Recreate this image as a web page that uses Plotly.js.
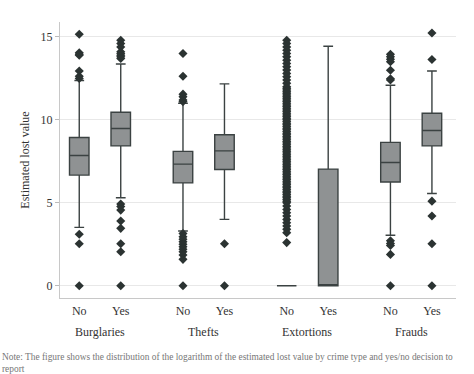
<!DOCTYPE html>
<html><head><meta charset="utf-8">
<script src="https://cdn.plot.ly/plotly-3.0.1.min.js"></script>
<style>html,body{margin:0;padding:0;background:#fff;}</style>
</head><body>
<div id="chart" style="width:474px;height:374px;"></div>
<script>
var groups = ["Burglaries", "Thefts", "Extortions", "Frauds"];
var decisions = ["No", "Yes"];
// box stats per group/decision: [No, Yes]
var q1 = [[6.67, 8.43], [6.2, 7.01], [0, 0], [6.25, 8.43]];
var med = [[7.85, 9.48], [7.33, 8.13], [0, 0], [7.43, 9.36]];
var q3 = [[8.94, 10.46], [8.1, 9.1], [0, 7.03], [8.64, 10.4]];
var lowf = [[3.52, 5.30], [3.3, 4.0], [0, 0], [3.04, 5.56]];
var upf = [[12.37, 13.37], [11.0, 12.17], [0, 14.44], [12.09, 12.95]];
var outliers = [
  [[15.16, 14.05, 13.95, 13.9, 12.95, 12.63, 12.5, 3.1, 2.53, 0],
   [14.8, 14.6, 14.4, 14.1, 14.0, 13.9, 13.8, 13.7, 4.92, 4.78, 4.56, 3.9, 3.46, 2.53, 2.05, 0]],
  [[14.0, 12.63, 11.55, 11.4, 11.2, 11.1, 3.15, 2.95, 2.8, 2.65, 2.5, 2.35, 2.2, 2.05, 1.85, 1.59, 0],
   [2.53, 0]],
  [[14.8, 14.6, 14.4, 14.2, 14.0, 13.8, 13.6, 13.4, 13.2, 13.0, 12.8, 12.6, 12.4, 12.2, 12.0,
    11.9, 11.8, 11.7, 11.6, 11.5, 11.4, 11.3, 11.2, 11.1, 11.0, 10.9, 10.8, 10.7, 10.6, 10.5,
    10.4, 10.3, 10.2, 10.1, 10.0, 9.9, 9.8, 9.7, 9.6, 9.5, 9.4, 9.3, 9.2, 9.1, 9.0,
    8.9, 8.8, 8.7, 8.6, 8.5, 8.4, 8.3, 8.2, 8.1, 8.0, 7.9, 7.8, 7.7, 7.6, 7.5,
    7.4, 7.3, 7.2, 7.1, 7.0, 6.9, 6.8, 6.7, 6.6, 6.5, 6.4, 6.3, 6.2, 6.1, 6.0,
    5.9, 5.8, 5.7, 5.6, 5.5, 5.4, 5.3, 5.2, 5.1, 5.0, 4.8, 4.6, 4.4, 4.2, 4.0,
    3.8, 3.6, 3.4, 3.2, 2.6],
   []],
  [[13.96, 13.8, 13.65, 13.5, 12.99, 12.48, 12.4, 2.71, 2.55, 2.43, 1.89, 0],
   [15.24, 13.64, 5.1, 4.2, 2.53, 0]]
];
var yTicks = [0, 5, 10, 15];

var groupGap = 2.5, pairOffset = 0.5;
var traces = [];
var tickvals = [], ticktext = [];
for (var g = 0; g < groups.length; g++) {
  for (var d = 0; d < 2; d++) {
    var xp = g * groupGap + (d === 0 ? -pairOffset : pairOffset);
    tickvals.push(xp); ticktext.push(decisions[d]);
    traces.push({
      type: 'box', x: [xp], q1: [q1[g][d]], median: [med[g][d]], q3: [q3[g][d]],
      lowerfence: [lowf[g][d]], upperfence: [upf[g][d]],
      boxpoints: false, width: 0.47, whiskerwidth: 0.5,
      fillcolor: '#8f9293', line: {color: '#3b4242', width: 1.4},
      showlegend: false, hoverinfo: 'skip'
    });
    if (outliers[g][d].length) {
      traces.push({
        type: 'scatter', mode: 'markers',
        x: outliers[g][d].map(function(){ return xp; }), y: outliers[g][d],
        marker: {symbol: 'diamond', size: 7, color: '#2b3332'},
        showlegend: false, hoverinfo: 'skip'
      });
    }
  }
}
var annotations = groups.map(function(name, g){
  return {text: name, x: g * groupGap, xref: 'x', y: -0.122, yref: 'paper',
          showarrow: false, yanchor: 'middle', xanchor: 'center',
          font: {family: 'Liberation Serif', size: 12, color: '#333'}};
});
annotations.push({
  text: 'Note: The figure shows the distribution of the logarithm of the estimated lost value by crime type and yes/no decision to<br>report',
  xref: 'paper', x: -0.1515, yref: 'paper', y: -0.19, xanchor: 'left', yanchor: 'top',
  align: 'left', showarrow: false,
  font: {family: 'Liberation Serif', size: 9.4, color: '#777'}
});

var layout = {
  width: 474, height: 374,
  margin: {l: 60, r: 18, t: 22, b: 76},
  paper_bgcolor: '#fff', plot_bgcolor: '#fff',
  font: {family: 'Liberation Serif', color: '#333'},
  xaxis: {range: [-0.964, 8.58], tickvals: tickvals, ticktext: ticktext,
          showgrid: false, zeroline: false, showline: true, linecolor: '#c8c8c8', linewidth: 1,
          ticks: '', ticklabelstandoff: 2, tickfont: {size: 12, color: '#333'}},
  yaxis: {range: [-0.74, 15.9], tickvals: yTicks, showgrid: true, gridcolor: '#e8e8e8',
          zeroline: false, showline: true, linecolor: '#c8c8c8', linewidth: 1,
          ticks: 'outside', ticklen: 4, tickcolor: '#bbb', tickfont: {size: 12, color: '#333'},
          title: {text: 'Estimated lost value', font: {size: 12, color: '#333'}, standoff: 8}},
  annotations: annotations
};
Plotly.newPlot('chart', traces, layout, {displayModeBar: false, staticPlot: true});
</script>
</body></html>
